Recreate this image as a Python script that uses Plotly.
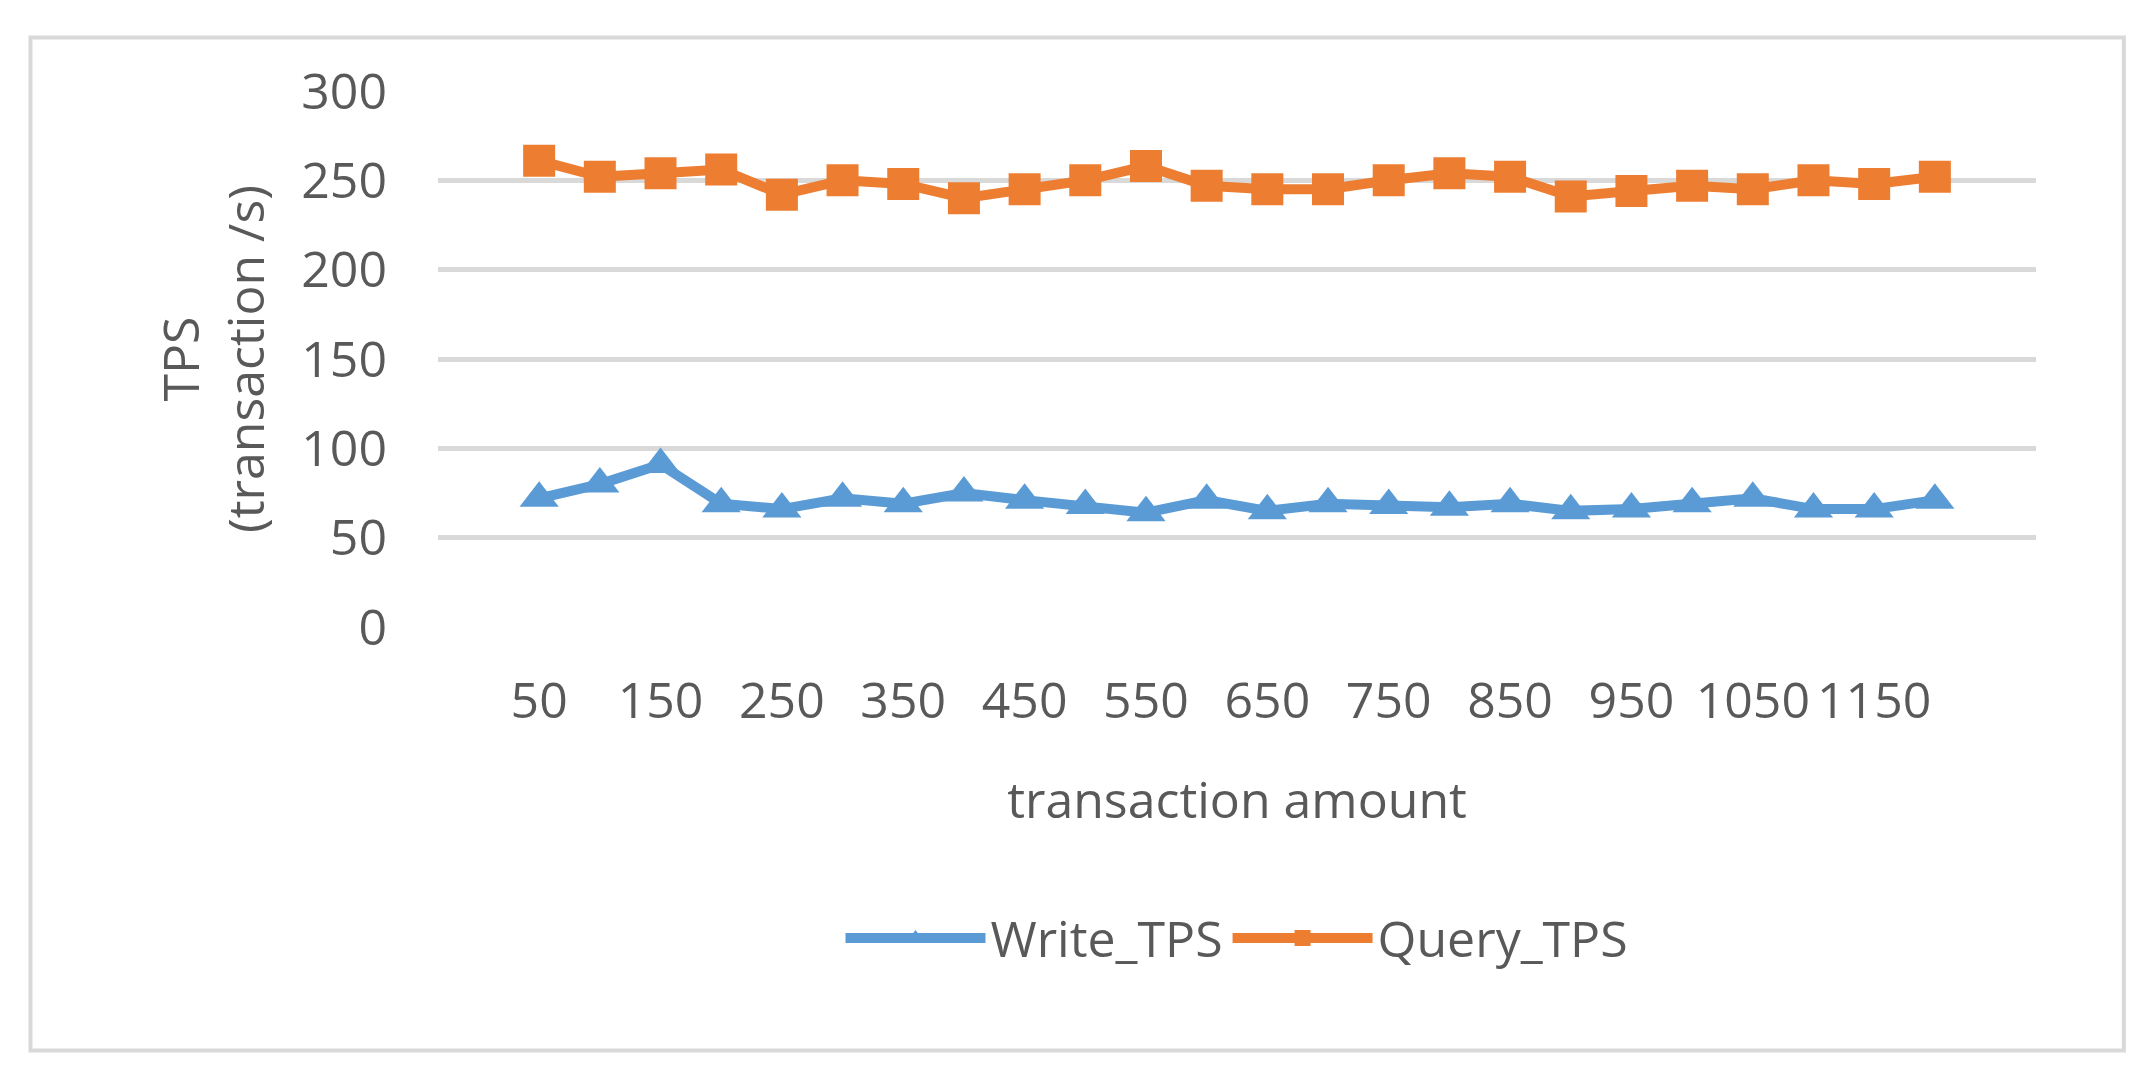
import plotly.graph_objects as go

x_amount = [str(v) for v in range(50, 1250, 50)]
write_tps = [72, 80, 91, 69, 66, 72, 69, 75, 71, 68, 64, 71, 65, 69, 68, 67, 69, 65, 66, 69, 72, 66, 66, 71]
query_tps = [261, 252, 254, 256, 242, 250, 248, 240, 245, 250, 258, 247, 245, 245, 250, 254, 252, 241, 244, 247, 245, 250, 248, 252]
tick_labels = [v if i % 2 == 0 else "" for i, v in enumerate(x_amount)]

W, H = 2134, 1072
grey = "#595959"
fnt = dict(size=50, color=grey, family="Open Sans")

fig = go.Figure()
fig.add_trace(go.Scatter(x=x_amount, y=write_tps, name="Write_TPS", mode="lines+markers",
                         line=dict(color="#5B9BD5", width=10),
                         marker=dict(symbol="triangle-up", size=34, color="#5B9BD5")))
fig.add_trace(go.Scatter(x=x_amount, y=query_tps, name="Query_TPS", mode="lines+markers",
                         line=dict(color="#ED7D31", width=10),
                         marker=dict(symbol="square", size=32, color="#ED7D31")))

fig.update_xaxes(type="category", tickmode="array", tickvals=x_amount, ticktext=tick_labels,
                 showgrid=False, showline=False, ticks="", ticklabelstandoff=40, automargin=False,
                 tickfont=fnt,
                 title=dict(text="transaction amount", font=fnt, standoff=50))
fig.update_yaxes(range=[0, 300], dtick=50, showgrid=True, gridcolor="#D9D9D9", gridwidth=5,
                 zeroline=False, ticks="", ticklabelstandoff=50, automargin=False,
                 tickfont=fnt,
                 title=dict(text="TPS<br>(transaction /s)", font=fnt, standoff=20))

fig.add_shape(type="rect", xref="paper", yref="paper", x0=-0.255, x1=1.055, y0=-0.79, y1=1.1,
              line=dict(color="#D9D9D9", width=4))

fig.update_layout(width=W, height=H, plot_bgcolor="white", paper_bgcolor="white",
                  margin=dict(l=430, r=106, t=83, b=453),
                  showlegend=True,
                  legend=dict(orientation="h", x=0.5, xanchor="center", y=-0.58, yanchor="middle",
                              font=fnt, itemwidth=140))

fig.write_html("out.html")
